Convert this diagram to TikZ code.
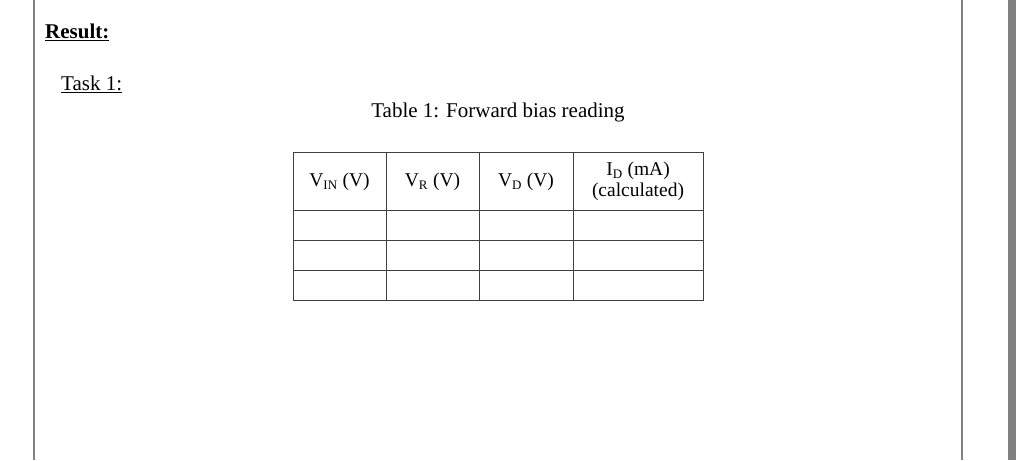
\documentclass[tikz,border=0pt]{standalone}
\usepackage{fontspec}
\setmainfont{Liberation Serif}
\begin{document}
\begin{tikzpicture}[x=1pt,y=-1pt,
  lbl/.style={font=\fontsize{21}{24}\selectfont, inner sep=0pt},
  hd/.style={font=\fontsize{19.5}{21}\selectfont, inner sep=0pt, align=center},
  grid/.style={draw=black!75, line width=1pt}]
\useasboundingbox (0,0) rectangle (1024,460);
\draw[black!50, line width=1.5pt] (34,0) -- (34,460);
\draw[black!50, line width=1.5pt] (962,0) -- (962,460);
\fill[black!50] (1008,0) rectangle (1016,460);
\node[lbl, anchor=west] (res) at (45,32) {\textbf{\underline{Result:}}};
\node[lbl, anchor=west] (task) at (61,84) {\underline{Task 1:}};
\node[lbl] (cap) at (498,112) {Table 1: Forward bias reading};
\draw[grid] (293,152) rectangle (703,300);
\foreach \x in {386,479,573} \draw[grid] (\x,152) -- (\x,300);
\foreach \y in {210,240,270} \draw[grid] (293,\y) -- (703,\y);
\node[hd] (h1) at (339.5,182) {V\textsubscript{\fontsize{13}{14}\selectfont IN} (V)};
\node[hd] (h2) at (432.5,182) {V\textsubscript{\fontsize{13}{14}\selectfont R} (V)};
\node[hd] (h3) at (526,182) {V\textsubscript{\fontsize{13}{14}\selectfont D} (V)};
\node[hd] (h4) at (638,181) {I\textsubscript{\fontsize{13}{14}\selectfont D} (mA)\\(calculated)};
\end{tikzpicture}
\end{document}
